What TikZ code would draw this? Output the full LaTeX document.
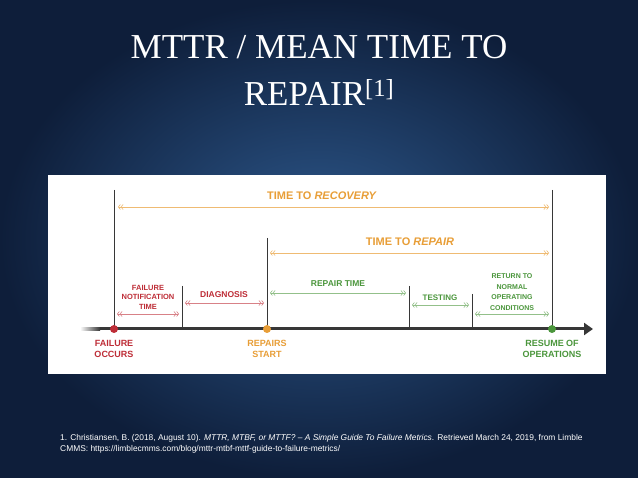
\documentclass[tikz,border=0pt]{standalone}
\usepackage{fontspec}
\setmainfont{Liberation Serif}
\setsansfont{Liberation Sans}
\usetikzlibrary{arrows.meta}
\definecolor{bgin}{RGB}{45,88,140}
\definecolor{bgout}{RGB}{14,30,58}
\definecolor{cor}{RGB}{232,158,55}
\definecolor{cred}{RGB}{190,45,55}
\definecolor{cgrn}{RGB}{75,150,60}
\definecolor{cline}{RGB}{55,55,55}
\tikzset{
 lbl/.style={font=\sffamily\bfseries\fontsize{7.5}{9.5}\selectfont, align=center, inner sep=0pt},
 big/.style={font=\sffamily\bfseries\fontsize{11}{12}\selectfont, inner sep=0pt, text=cor},
 span/.style={{Straight Barb[length=2pt,width=5pt]Straight Barb[length=2pt,width=5pt]}-{Straight Barb[length=2pt,width=5pt]Straight Barb[length=2pt,width=5pt]}, line width=0.6pt},
 tick/.style={draw=cline, line width=0.9pt},
 dot/.style={circle, inner sep=0pt, minimum size=8pt}
}
\begin{document}
\begin{tikzpicture}[x=1pt,y=-1pt]
\shade[inner color=bgin, outer color=bgout] (0,0) rectangle (638,478);
\useasboundingbox (0,0) rectangle (638,478);
\node[text=white, font=\fontsize{35}{47}\selectfont, align=center] (title) at (319,70) {MTTR / MEAN TIME TO\\REPAIR\textsuperscript{[1]}};
\fill[white] (48,175) rectangle (606,374);
\draw[line width=3pt, cline, -{Triangle[length=9pt,width=12pt]}] (96,329) -- (593,329);
\shade[left color=white, right color=cline] (80,327.5) rectangle (100,330.5);
\coordinate (a1) at (114,190); \coordinate (a0) at (114,329);
\coordinate (b1) at (182,286); \coordinate (b0) at (182,329);
\coordinate (c1) at (267,238); \coordinate (c0) at (267,329);
\coordinate (d1) at (409,286); \coordinate (d0) at (409,329);
\coordinate (e1) at (472,294); \coordinate (e0) at (472,329);
\coordinate (f1) at (552,190); \coordinate (f0) at (552,329);
\foreach \p in {a,b,c,d,e,f} \draw[tick] (\p1) -- (\p0);
\node[dot, fill=cred] (fo) at (114,329) {};
\node[dot, fill=cor] (rs) at (267,329) {};
\node[dot, fill=cgrn] (ro) at (552,329) {};
\node[big] (ttr) at (322,196) {TIME TO \textit{RECOVERY}};
\coordinate (r1) at (118,207); \coordinate (r2) at (549,207);
\draw[span, cor!70] (r1) -- (r2);
\node[big] (ttrep) at (410,242) {TIME TO \textit{REPAIR}};
\coordinate (p1) at (270,253); \coordinate (p2) at (549,253);
\draw[span, cor!70] (p1) -- (p2);
\node[lbl, text=cred] (fnt) at (148,297) {FAILURE\\NOTIFICATION\\TIME};
\coordinate (n1) at (117,314); \coordinate (n2) at (179,314);
\draw[span, cred!60] (n1) -- (n2);
\node[lbl, text=cred, font=\sffamily\bfseries\fontsize{8.5}{9}\selectfont] (dg) at (224,295) {DIAGNOSIS};
\coordinate (g1) at (185,303); \coordinate (g2) at (264,303);
\draw[span, cred!60] (g1) -- (g2);
\node[lbl, text=cgrn, font=\sffamily\bfseries\fontsize{8.5}{9}\selectfont] (rt) at (338,284) {REPAIR TIME};
\coordinate (t1) at (270,293); \coordinate (t2) at (406,293);
\draw[span, cgrn!60] (t1) -- (t2);
\node[lbl, text=cgrn, font=\sffamily\bfseries\fontsize{8}{9}\selectfont] (ts) at (440,298) {TESTING};
\coordinate (s1) at (412,305); \coordinate (s2) at (469,305);
\draw[span, cgrn!60] (s1) -- (s2);
\node[lbl, text=cgrn, font=\sffamily\bfseries\fontsize{7}{10.5}\selectfont] (rn) at (512,292) {RETURN TO\\NORMAL\\OPERATING\\CONDITIONS};
\coordinate (q1) at (475,314); \coordinate (q2) at (549,314);
\draw[span, cgrn!60] (q1) -- (q2);
\node[lbl, text=cred, font=\sffamily\bfseries\fontsize{9}{11}\selectfont] (l1) at (114,349) {FAILURE\\OCCURS};
\node[lbl, text=cor, font=\sffamily\bfseries\fontsize{9}{11}\selectfont] (l2) at (267,349) {REPAIRS\\START};
\node[lbl, text=cgrn, font=\sffamily\bfseries\fontsize{9}{11}\selectfont] (l3) at (552,349) {RESUME OF\\OPERATIONS};
\node[text=white, font=\sffamily\fontsize{8.4}{11}\selectfont, align=left, anchor=north west, inner sep=0pt] (fn) at (60,434) {1. Christiansen, B. (2018, August 10). \textit{MTTR, MTBF, or MTTF? -- A Simple Guide To Failure Metrics}. Retrieved March 24, 2019, from Limble\\CMMS: https://limblecmms.com/blog/mttr-mtbf-mttf-guide-to-failure-metrics/};
\end{tikzpicture}
\end{document}
